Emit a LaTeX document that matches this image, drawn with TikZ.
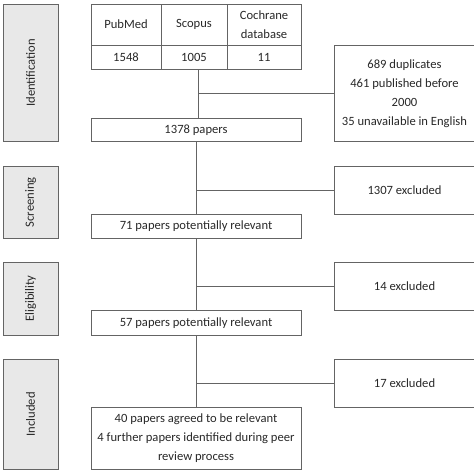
\documentclass[tikz,border=0pt]{standalone}
\usepackage{fontspec}
\setmainfont{Carlito}
\usepackage{xcolor}
\usetikzlibrary{positioning,calc}
\definecolor{phasegray}{RGB}{232,232,232}
\definecolor{edgegray}{RGB}{100,100,100}
\definecolor{textgray}{RGB}{40,40,40}

\begin{document}
\begin{tikzpicture}[x=1pt,y=-1pt,font=\fontsize{12.6}{19}\selectfont,text=textgray,
  box/.style={draw=edgegray,line width=1pt,anchor=north west,inner sep=0pt,outer sep=0pt,align=center},
  phase/.style={box,fill=phasegray,minimum width=55pt},
  link/.style={draw=edgegray,line width=1pt}]
  % page = 474 x 474 px, y grows downward (1 unit = 1 px)
  \useasboundingbox (0,0) rectangle (474,474);
  % phase labels (left column)
  \node[phase,minimum height=137.7pt] (ident)  at (3,4)     {\rotatebox{90}{Identification}};
  \node[phase,minimum height=72.7pt]  (screen) at (3,166)   {\rotatebox{90}{Screening}};
  \node[phase,minimum height=73pt]    (elig)   at (3,262)   {\rotatebox{90}{Eligibility}};
  \node[phase,minimum height=109.3pt] (incl)   at (3,359.7) {\rotatebox{90}{Included}};
  % source table: names on top, counts below
  \node[box,minimum width=70pt,minimum height=41pt] (pubmed)   at (91,4)  {PubMed};
  \node[box,minimum width=66pt,minimum height=41pt] (scopus)   at (161,4) {Scopus};
  \node[box,minimum width=74pt,minimum height=41pt] (cochrane) at (227,4) {Cochrane\\database};
  \node[box,minimum width=70pt,minimum height=24pt] (n1548) at (91,45)  {1548};
  \node[box,minimum width=66pt,minimum height=24pt] (n1005) at (161,45) {1005};
  \node[box,minimum width=74pt,minimum height=24pt] (n11)   at (227,45) {11};
  % main column
  \node[box,minimum width=210pt,minimum height=23.7pt] (p1378) at (91,118)   {1378 papers};
  \node[box,minimum width=210pt,minimum height=24.7pt] (p71)   at (91,214)   {71 papers potentially relevant};
  \node[box,minimum width=210pt,minimum height=24.3pt] (p57)   at (91,310.7) {57 papers potentially relevant};
  \node[box,minimum width=210pt,minimum height=61.7pt] (p44)   at (91,407.3)
    {40 papers agreed to be relevant\\4 further papers identified during peer\\review process};
  % excluded column (right border runs off the page)
  \node[box,minimum width=141pt,minimum height=96pt]   (ex1) at (334,45.7)
    {689 duplicates\\461 published before\\2000\\35 unavailable in English};
  \node[box,minimum width=141pt,minimum height=48pt]   (ex2) at (334,166)   {1307 excluded};
  \node[box,minimum width=141pt,minimum height=48.7pt] (ex3) at (334,262)   {14 excluded};
  \node[box,minimum width=141pt,minimum height=47.6pt] (ex4) at (334,359.7) {17 excluded};
  % flow lines (no arrow tips)
  \draw[link] ([xshift=2pt]p1378.north |- n1005.south) -- ([xshift=2pt]p1378.north);
  \draw[link] ([xshift=2pt]ex1.west -| p1378.north) -- (ex1.west);
  \draw[link] (p1378.south) -- (p71.north);
  \draw[link] (ex2.west -| p71.north) -- (ex2.west);
  \draw[link] (p71.south) -- (p57.north);
  \draw[link] (ex3.west -| p57.north) -- (ex3.west);
  \draw[link] (p57.south) -- (p44.north);
  \draw[link] (ex4.west -| p44.north) -- (ex4.west);
\end{tikzpicture}
\end{document}
